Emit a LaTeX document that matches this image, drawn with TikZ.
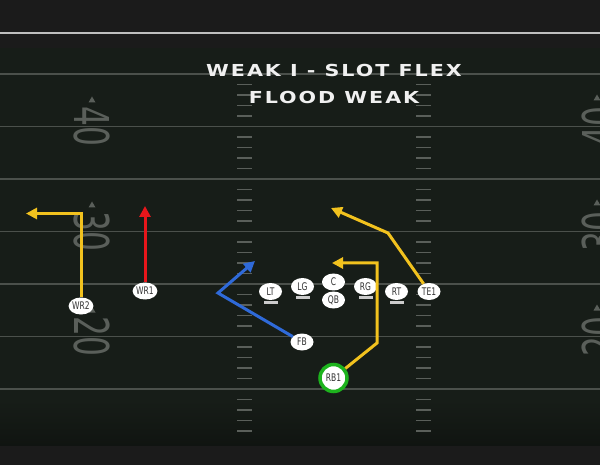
\documentclass[tikz,border=0pt]{standalone}
\usepackage{fontspec}
\usetikzlibrary{shapes.geometric,arrows.meta}
\newfontfamily\titolofont{DejaVu Sans}[FakeStretch=1.25,LetterSpace=12]
\newfontfamily\yardfont{DejaVu Sans}[FakeStretch=0.65]
\newfontfamily\playerfont{DejaVu Sans}[FakeStretch=0.72]
\definecolor{campo}{HTML}{171D18}
\definecolor{bordo}{HTML}{1B1B1B}
\definecolor{linea}{HTML}{4B504B}
\definecolor{numero}{HTML}{5A5F5A}
\definecolor{giallo}{HTML}{F2C21E}
\definecolor{rosso}{HTML}{E8161B}
\definecolor{blu}{HTML}{2F6AD9}
\definecolor{verde}{HTML}{1DB31D}
\definecolor{testo}{HTML}{333333}
\tikzset{
  titolo/.style={text=white!94!black, font=\titolofont\bfseries\fontsize{16.5}{16.5}\selectfont},
  yard/.style={text=numero, font=\yardfont\fontsize{48}{48}\selectfont, inner sep=0pt},
  yardline/.style={draw=linea, line width=1.5pt},
  hash/.style={draw=numero, line width=1.5pt},
  player/.style={ellipse, fill=white, minimum width=23pt, minimum height=17pt, inner sep=0pt,
    text=testo, font=\playerfont\fontsize{10.5}{10.5}\selectfont},
  rb/.style={player, circle, draw=verde, line width=3.5pt, minimum size=27pt},
  stance/.style={fill=white!80!black},
  route/.style={line width=3pt, -{Triangle[length=11pt,width=11pt]}},
}
\begin{document}
\begin{tikzpicture}[x=1pt, y=-1pt]
    % Disegna il campo
    \clip (0,0) rectangle (600,465);
    \fill[bordo] (0,0) rectangle (600,465);
    \fill[campo] (0,48) rectangle (600,445);
    \shade[top color=campo, bottom color=campo!70!black] (0,400) rectangle (600,445);
    \draw[white!75!black, line width=1.5pt] (0,33) -- (600,33);

    % Linee delle yard e hash marks
    \foreach \l in {74,126.5,...,389} {
        \draw[yardline] (0,\l) -- (600,\l);
        \foreach \k in {1,...,4} {
            \draw[hash] (237,\l+10.5*\k) -- (252,\l+10.5*\k);
            \draw[hash] (416,\l+10.5*\k) -- (431,\l+10.5*\k);
        }
    }

    % Numeri
    \foreach \y/\n in {126.5/40, 231.5/30, 336.5/20} {
        \node[yard, rotate=-90] (sx\n) at (92,\y) {\n};
        \fill[numero] (92,\y-30) -- ++(3.5,6) -- ++(-7,0) -- cycle;
        \node[yard, rotate=90] (dx\n) at (600,\y) {\n};
        \fill[numero] (597,\y-32) -- ++(3.5,6) -- ++(-7,0) -- cycle;
    }

    % Titolo
    \node[titolo] (riga1) at (334,70) {WEAK I - SLOT FLEX};
    \node[titolo] (riga2) at (334,97.5) {FLOOD WEAK};

    % Giocatori
    \node[player] (lt) at (270.5,291.5) {LT};
    \node[player] (lg) at (302.5,286.5) {LG};
    \node[player] (c) at (333.5,282) {C};
    \node[player] (qb) at (333.5,300) {QB};
    \node[player] (rg) at (365.5,286.5) {RG};
    \node[player] (rt) at (396.5,291.5) {RT};
    \node[player] (te1) at (429,291.5) {TE1};
    \node[player] (fb) at (302,342) {FB};
    \node[player] (wr2) at (81,306) {WR2};
    \node[player] (wr1) at (145,291) {WR1};
    \node[rb] (rb1) at (333.5,378) {RB1};
    \foreach \p in {lt,lg,rg,rt}
        \fill[stance] ([xshift=-7pt,yshift=-0.5pt]\p.south) rectangle ([xshift=7pt,yshift=-3.5pt]\p.south);

    % Percorsi
    \coordinate (wr2a) at (81,213.5);
    \coordinate (wr2b) at (26,213.5);
    \draw[route, giallo] (wr2) -- (wr2a) -- (wr2b);
    \coordinate (wr1a) at (145,206);
    \draw[route, rosso] (wr1) -- (wr1a);
    \coordinate (fba) at (218,293);
    \coordinate (fbb) at (255,261);
    \draw[route, blu] (fb) -- (fba) -- (fbb);
    \coordinate (rb1a) at (377,343);
    \coordinate (rb1b) at (377,263);
    \coordinate (rb1c) at (332,263);
    \draw[route, giallo] (rb1) -- (rb1a) -- (rb1b) -- (rb1c);
    \coordinate (te1a) at (388,233);
    \coordinate (te1b) at (331,208);
    \draw[route, giallo] (te1) -- (te1a) -- (te1b);
\end{tikzpicture}
\end{document}
